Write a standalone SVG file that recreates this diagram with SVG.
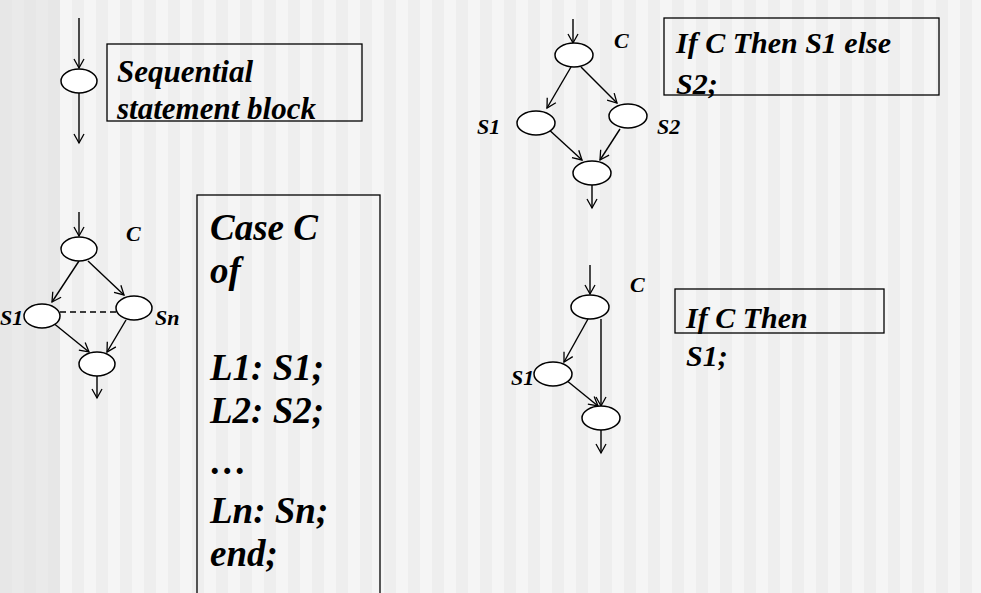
<svg xmlns="http://www.w3.org/2000/svg" width="981" height="593" viewBox="0 0 981 593">
<defs>
<pattern id="stripes" width="24" height="10" patternUnits="userSpaceOnUse"><rect width="24" height="10" fill="#f5f5f5"/><rect width="12" height="10" fill="#eeeeee"/></pattern>
<marker id="ah" markerWidth="12" markerHeight="12" refX="10" refY="6" orient="auto" markerUnits="userSpaceOnUse"><path d="M1,1 L10,6 L1,11" fill="none" stroke="#000" stroke-width="1.3"/></marker>
<style>
.n{fill:#fff;stroke:#000;stroke-width:1.5}
.e{stroke:#000;stroke-width:1.4;fill:none;marker-end:url(#ah)}
.l{stroke:#000;stroke-width:1.4;fill:none}
.box{fill:none;stroke:#000;stroke-width:1.3}
text{font-family:'Liberation Serif','Times New Roman','DejaVu Serif',serif;font-weight:bold;font-style:italic;fill:#000}
</style>
</defs>
<rect width="981" height="593" fill="url(#stripes)"/>
<rect width="60" height="593" fill="#e2e2e2" opacity="0.6"/>
<g id="connectors">
<line class="e" x1="79" y1="18" x2="79" y2="68"/>
<line class="e" x1="79" y1="93" x2="79" y2="143"/>
<line class="e" x1="79" y1="212" x2="79" y2="236"/>
<line class="e" x1="79" y1="261" x2="52" y2="302"/>
<line class="e" x1="88" y1="261" x2="124" y2="295"/>
<line class="l" x1="60" y1="312" x2="116" y2="312" stroke-dasharray="6,4"/>
<line class="e" x1="52" y1="322" x2="89" y2="352"/>
<line class="e" x1="126" y1="320" x2="107" y2="352"/>
<line class="e" x1="97" y1="376" x2="97" y2="398"/>
<line class="e" x1="573" y1="19" x2="573" y2="43"/>
<line class="e" x1="571" y1="67" x2="547" y2="108"/>
<line class="e" x1="581" y1="67" x2="617" y2="103"/>
<line class="e" x1="546" y1="127" x2="582" y2="160"/>
<line class="e" x1="620" y1="129" x2="600" y2="160"/>
<line class="e" x1="592" y1="185" x2="592" y2="208"/>
<line class="e" x1="590" y1="265" x2="590" y2="294"/>
<line class="e" x1="588" y1="319" x2="564" y2="362"/>
<line class="e" x1="601" y1="319" x2="601" y2="406"/>
<line class="e" x1="566" y1="380" x2="598" y2="406"/>
<line class="e" x1="601" y1="430" x2="601" y2="453"/>
</g>
<g id="seq">
<ellipse class="n" cx="79" cy="81" rx="18" ry="12"/>
<rect class="box" x="107" y="44" width="255" height="77"/>
<text x="117" y="82" font-size="31">Sequential</text>
<text x="117" y="119" font-size="31">statement block</text>
</g>
<g id="case">
<ellipse class="n" cx="79" cy="249" rx="18" ry="12"/>
<ellipse class="n" cx="42" cy="316" rx="18" ry="12"/>
<ellipse class="n" cx="134" cy="308" rx="18" ry="12"/>
<ellipse class="n" cx="97" cy="364" rx="18" ry="12"/>
<text x="126" y="241" font-size="22">C</text>
<text x="0" y="325" font-size="22">S1</text>
<text x="155" y="325" font-size="22">Sn</text>
<rect class="box" x="197" y="195" width="183" height="410"/>
<text x="210" y="240" font-size="37">Case C</text>
<text x="210" y="283" font-size="37">of</text>
<text x="210" y="380" font-size="37">L1: S1;</text>
<text x="210" y="423" font-size="37">L2: S2;</text>
<text x="210" y="474" font-size="37">…</text>
<text x="210" y="523" font-size="37">Ln: Sn;</text>
<text x="210" y="566" font-size="37">end;</text>
</g>
<g id="ifelse">
<ellipse class="n" cx="574" cy="55" rx="19" ry="12"/>
<ellipse class="n" cx="536" cy="123" rx="19" ry="12"/>
<ellipse class="n" cx="628" cy="116" rx="19" ry="12"/>
<ellipse class="n" cx="592" cy="173" rx="19" ry="12"/>
<text x="614" y="48" font-size="22">C</text>
<text x="477" y="134" font-size="22">S1</text>
<text x="657" y="134" font-size="22">S2</text>
<rect class="box" x="664" y="18" width="275" height="77"/>
<text x="676" y="53" font-size="30">If C Then S1 else</text>
<text x="676" y="94" font-size="30">S2;</text>
</g>
<g id="if">
<ellipse class="n" cx="590" cy="307" rx="19" ry="12"/>
<ellipse class="n" cx="553" cy="374" rx="19" ry="12"/>
<ellipse class="n" cx="601" cy="418" rx="19" ry="12"/>
<text x="630" y="292" font-size="22">C</text>
<text x="511" y="385" font-size="22">S1</text>
<rect class="box" x="675" y="289" width="209" height="44"/>
<text x="686" y="328" font-size="30">If C Then</text>
<text x="686" y="366" font-size="30">S1;</text>
</g>
</svg>
